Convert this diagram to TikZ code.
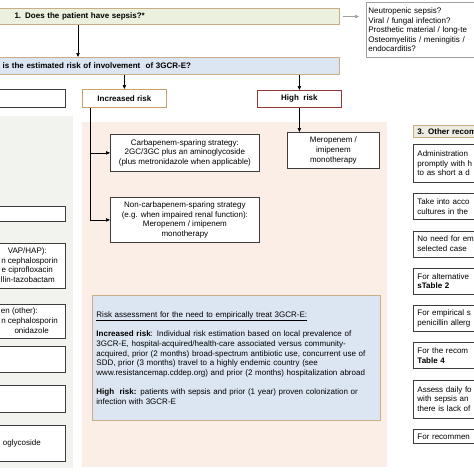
\documentclass[tikz,border=0pt]{standalone}
\usepackage{fontspec}
\setmainfont{Liberation Sans}
\usetikzlibrary{arrows.meta,positioning}

\definecolor{qgreen}{HTML}{EBF1DE}
\definecolor{qblue}{HTML}{DCE6F2}
\definecolor{tanline}{HTML}{C8AD86}
\definecolor{incrline}{HTML}{C9A067}
\definecolor{highline}{HTML}{943634}
\definecolor{lowbg}{HTML}{F2F3EE}
\definecolor{pinkbg}{HTML}{FBEEE6}
\definecolor{otherfill}{HTML}{EEECE1}
\definecolor{noteline}{HTML}{A0A0A0}
\definecolor{boxline}{HTML}{3C3C3C}

\tikzset{
 every node/.style={font=\fontsize{8}{9.6}\selectfont},
 qbar/.style={draw=tanline, line width=1.1pt, anchor=north west, align=left, inner ysep=0pt},
 wbox/.style={draw=boxline, line width=0.8pt, fill=white, inner sep=0pt},
 rbox/.style={wbox, minimum width=108pt, text width=100pt, inner xsep=4pt, align=left},
 notebox/.style={draw=noteline, line width=0.7pt, fill=white, anchor=north west, align=left, text width=140pt, inner xsep=2pt},
 arr/.style={line width=0.6pt, -{Triangle[length=4pt,width=3.4pt]}},
 grayarr/.style={arr, draw=noteline}
}

\begin{document}
\begin{tikzpicture}[x=1pt,y=-1pt]
 \useasboundingbox (0,0) rectangle (474,474);
 \clip (0,0) rectangle (474,474);
 \fill[lowbg] (-5,116) rectangle (73,468);
 \fill[pinkbg] (82,122) rectangle (387,467);

 \node[qbar, fill=qgreen, text width=306pt, inner xsep=19pt, minimum height=16pt] (sepq) at (-5,8) {\textbf{1. Does the patient have sepsis?*}};
 \node[notebox, minimum height=55pt] (notes) at (366,2) {Neutropenic sepsis?\\ Viral / fungal infection?\\ Prosthetic material / long-te\\ Osteomyelitis / meningitis /\\ endocarditis?};
 \node[qbar, fill=qblue, text width=330pt, inner xsep=7pt, minimum height=17pt] (riskq) at (-5,57) {\textbf{is the estimated risk of involvement \ of 3GCR-E?}};

 \node[wbox, anchor=north east, minimum width=90pt, minimum height=18pt] (lowr) at (66,89) {};
 \node[wbox, draw=incrline, anchor=north west, minimum width=84pt, minimum height=18pt] (incr) at (82,89) {\textbf{Increased risk}};
 \node[wbox, draw=highline, anchor=north west, minimum width=84pt, minimum height=17pt] (high) at (257,90) {\textbf{High \ risk}};

 \node[wbox, anchor=north east, minimum width=90pt, minimum height=15pt] (low1) at (66,206) {};
 \node[wbox, anchor=north east, minimum width=90pt, minimum height=45pt] (low2) at (66,243) {};
 \node[anchor=east, inner sep=0pt] (low2a) at (47,251) {VAP/HAP):};
 \node[anchor=east, inner sep=0pt] (low2b) at (58,261) {n cephalosporin};
 \node[anchor=east, inner sep=0pt] (low2c) at (53,270) {e ciprofloxacin};
 \node[anchor=east, inner sep=0pt] (low2d) at (55,280) {llin-tazobactam};
 \node[wbox, anchor=north east, minimum width=90pt, minimum height=34pt] (low3) at (66,304) {};
 \node[anchor=east, inner sep=0pt] (low3a) at (38,311) {en (other):};
 \node[anchor=east, inner sep=0pt] (low3b) at (58,321) {n cephalosporin};
 \node[anchor=east, inner sep=0pt] (low3c) at (49,331) {onidazole};
 \node[wbox, anchor=north east, minimum width=90pt, minimum height=26pt] (low4) at (66,346) {};
 \node[wbox, anchor=north east, minimum width=90pt, minimum height=27pt] (low5) at (66,385) {};
 \node[wbox, anchor=north east, minimum width=90pt, minimum height=36pt] (low6) at (66,425) {};
 \node[anchor=east, inner sep=0pt] (low6a) at (41,443) {oglycoside};

 \node[wbox, anchor=north west, minimum width=149pt, minimum height=37pt, align=center] (carb) at (110,134) {Carbapenem-sparing strategy:\\ 2GC/3GC plus an aminoglycoside\\ (plus metronidazole when applicable)};
 \node[wbox, anchor=north west, minimum width=149pt, minimum height=45pt, align=center] (noncarb) at (110,197) {Non-carbapenem-sparing strategy\\ (e.g. when impaired renal function):\\ Meropenem / imipenem\\ monotherapy};
 \node[wbox, anchor=north west, minimum width=92pt, minimum height=36pt, align=center] (mero) at (287,132) {Meropenem /\\ imipenem\\ monotherapy};

 \node[draw=tanline, line width=0.9pt, fill=qblue, anchor=north west, minimum width=288pt, minimum height=125pt, text width=280pt, inner xsep=4pt, align=left] (riskbox) at (92,295) {\underline{Risk assessment for the need to empirically treat 3GCR-E:}\\[10pt]
  \textbf{Increased risk}: Individual risk estimation based on local prevalence of\\
  3GCR-E, hospital-acquired/health-care associated versus community-\\
  acquired, prior (2 months) broad-spectrum antibiotic use, concurrent use of\\
  SDD, prior (3 months) travel to a highly endemic country (see\\
  www.resistancemap.cddep.org) and prior (2 months) hospitalization abroad\\[10pt]
  \textbf{High \ risk:} patients with sepsis and prior (1 year) proven colonization or\\
  infection with 3GCR-E};

 \node[draw=tanline, line width=0.9pt, fill=otherfill, anchor=north west, minimum width=108pt, minimum height=12pt, text width=100pt, inner xsep=4pt, inner ysep=0pt, align=left] (other) at (413,125) {\textbf{3. Other recom}};
 \node[rbox, minimum height=38pt, below=6pt of other] (adm) {Administration\\ promptly with h\\ to as short a d};
 \node[rbox, minimum height=26pt, below=10.5pt of adm] (take) {Take into acco\\ cultures in the};
 \node[rbox, minimum height=26pt, below=10.5pt of take] (noneed) {No need for em\\ selected case};
 \node[rbox, minimum height=26pt, below=10.5pt of noneed] (alt) {For alternative\\ \textbf{sTable 2}};
 \node[rbox, minimum height=26pt, below=10.5pt of alt] (emp) {For empirical s\\ penicillin allerg};
 \node[rbox, minimum height=26pt, below=10.5pt of emp] (recom) {For the recom\\ \textbf{Table 4}};
 \node[rbox, minimum height=38pt, below=10.5pt of recom] (assess) {Assess daily fo\\ with sepsis an\\ there is lack of};
 \node[rbox, minimum height=14pt, below=10.5pt of assess] (forrec) {For recommen};

 \coordinate (sepfoot) at ([xshift=83pt]sepq.south west);
 \coordinate (lowfoot) at ([xshift=10pt]lowr.south west);
 \coordinate (incrfoot) at ([xshift=8pt]incr.south west);
 \draw[grayarr, shorten <=3pt, shorten >=7pt] (sepq.east) -- (sepq.east -| notes.west);
 \draw[arr] (sepfoot) -- (sepfoot |- riskq.north);
 \draw[arr] (incr.north |- riskq.south) -- (incr.north);
 \draw[arr] (high.north |- riskq.south) -- (high.north);
 \draw[arr] (lowfoot) -- (lowfoot |- low1.north);
 \draw[line width=0.6pt] (incrfoot) -- (incrfoot |- noncarb.west);
 \draw[arr] (incrfoot |- carb.west) -- (carb.west);
 \draw[arr] (incrfoot |- noncarb.west) -- (noncarb.west);
 \draw[arr] (high.south) -- (high.south |- mero.north);
\end{tikzpicture}
\end{document}
